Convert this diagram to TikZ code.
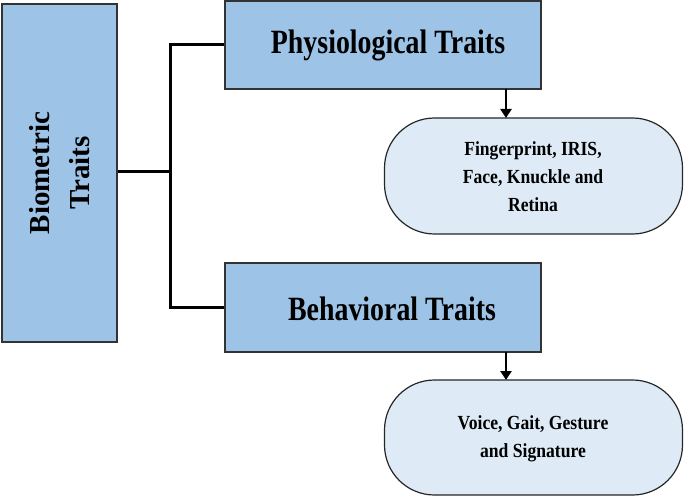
\documentclass[tikz,border=0pt]{standalone}
\usepackage{fontspec}
\setmainfont{Liberation Serif}
\usetikzlibrary{arrows.meta}
\definecolor{dk}{HTML}{9DC3E6}
\definecolor{lt}{HTML}{DEEBF7}
\begin{document}
\begin{tikzpicture}[x=1pt,y=-1pt,
 box/.style={draw=black!80,line width=1.2pt,fill=dk,inner sep=0pt},
 pill/.style={draw=black!85,line width=1.2pt,fill=lt,rounded corners=50pt,inner sep=0pt},
 con/.style={line width=3pt,black},
 arr/.style={line width=2.5pt,-{Triangle[length=9pt,width=11pt]}}]
\useasboundingbox (0,0) rectangle (685,497);
\node[box,minimum width=115pt,minimum height=338pt] (bio) at (59.5,173) {};
\node[rotate=90,align=center,font=\bfseries\fontsize{29}{40}\selectfont] (biot) at (bio.center) {Biometric\\Traits};
\node[box,minimum width=316pt,minimum height=88pt] (phy) at (383,45) {};
\node[font=\bfseries\fontsize{34}{40}\selectfont] (phyt) at (388,45) {\scalebox{0.82}[1]{Physiological Traits}};
\node[box,minimum width=316pt,minimum height=89pt] (beh) at (383,307.5) {};
\node[font=\bfseries\fontsize{34}{40}\selectfont] (beht) at (392,309) {\scalebox{0.82}[1]{Behavioral Traits}};
\node[pill,minimum width=298pt,minimum height=116pt] (p1) at (533.5,176) {};
\node[align=center,font=\bfseries\fontsize{20}{28}\selectfont] (p1t) at (533,177) {\scalebox{0.88}[1]{Fingerprint, IRIS,}\\\scalebox{0.88}[1]{Face, Knuckle and}\\\scalebox{0.88}[1]{Retina}};
\node[pill,minimum width=298pt,minimum height=115pt] (p2) at (533.5,437.5) {};
\node[align=center,font=\bfseries\fontsize{20}{28}\selectfont] (p2t) at (533,439) {\scalebox{0.88}[1]{Voice, Gait, Gesture}\\\scalebox{0.88}[1]{and Signature}};
\coordinate (j) at (170,172);
\draw[con] (bio.east |- j) -- (j);
\draw[con] (phy.west) -| (j) |- (beh.west);
\draw[arr] (506,89) -- (506,118);
\draw[arr] (506,352) -- (506,380);
\end{tikzpicture}
\end{document}
